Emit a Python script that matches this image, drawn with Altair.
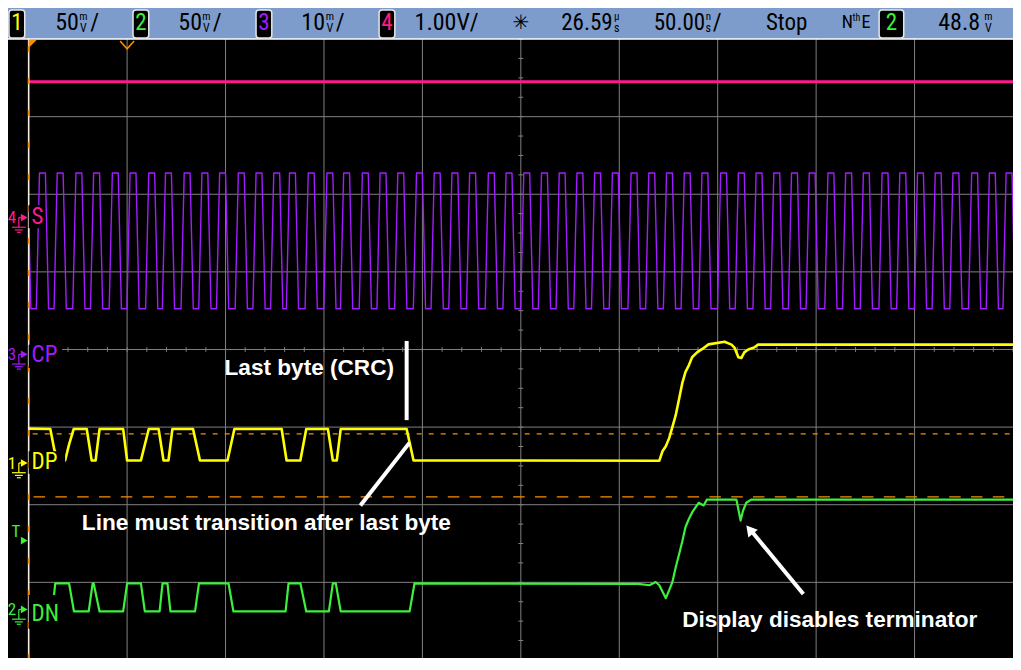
import altair as alt
import pandas as pd

# ---------------- values ----------------
# x: screen divisions from the left edge of the graticule (0..10, 50 ns/div)
# y: screen divisions from the centre line (positive = up)

# channel 4  "S" (magenta) - flat line
s_t = [0.0, 10.0]
s_v = [3.45, 3.45]

# channel 3  "CP" (purple) - centres of the clock's high plateaus
cp_peaks = [-0.04, 0.14, 0.32, 0.51, 0.69, 0.88, 1.06, 1.25, 1.42, 1.61, 1.79, 1.97, 2.16,
            2.34, 2.52, 2.68, 2.87, 3.06, 3.23, 3.42, 3.60, 3.78, 3.97, 4.15, 4.33, 4.51,
            4.70, 4.88, 5.06, 5.24, 5.42, 5.60, 5.78, 5.96, 6.15, 6.33, 6.51, 6.69, 6.87,
            7.06, 7.24, 7.42, 7.60, 7.78, 7.96, 8.15, 8.33, 8.51, 8.70, 8.88, 9.06, 9.24,
            9.42, 9.61, 9.79, 9.96, 10.14]
cp_high = 2.275
cp_low = 0.525

# channel 1  "DP" (yellow)
dp_t = [0, 0.22, 0.26, 0.31, 0.37, 0.41, 0.457, 0.59, 0.64, 0.68, 0.72, 0.96, 1.0, 1.14,
        1.22, 1.32, 1.37, 1.42, 1.46, 1.67, 1.74, 2.02, 2.09, 2.57, 2.62, 2.76, 2.82, 3.04,
        3.09, 3.13, 3.17, 3.84, 3.91, 6.407, 6.44, 6.473, 6.507, 6.54, 6.573, 6.607, 6.64,
        6.673, 6.707, 6.74, 6.79, 6.84, 6.907, 7.07, 7.14, 7.17, 7.21, 7.24, 7.27, 7.31,
        7.37, 7.41, 10.0]
dp_v = [-1.02, -1.025, -1.29, -1.43, -1.43, -1.225, -1.025, -1.025, -1.43, -1.43, -1.025,
        -1.025, -1.43, -1.43, -1.025, -1.025, -1.43, -1.43, -1.025, -1.025, -1.43, -1.43,
        -1.025, -1.025, -1.43, -1.43, -1.025, -1.025, -1.43, -1.43, -1.025, -1.025, -1.43,
        -1.433, -1.308, -1.246, -1.142, -0.996, -0.85, -0.642, -0.434, -0.288, -0.204, -0.1,
        -0.0375, 0.004, 0.066, 0.1, 0.0625, 0.025, -0.1, -0.11, -0.0375, 0.0, 0.025, 0.0625,
        0.0625]

# channel 2  "DN" (green)
dn_t = [0, 0.24, 0.27, 0.41, 0.46, 0.61, 0.65, 0.66, 0.72, 0.96, 1.0, 1.14, 1.18, 1.33, 1.36,
        1.41, 1.44, 1.69, 1.73, 2.03, 2.08, 2.61, 2.64, 2.76, 2.82, 3.05, 3.09, 3.12, 3.17,
        3.87, 3.92, 6.19, 6.307, 6.37, 6.407, 6.44, 6.473, 6.507, 6.54, 6.573, 6.607, 6.64,
        6.673, 6.707, 6.74, 6.773, 6.807, 6.857, 6.89, 7.19, 7.223, 7.233, 7.257, 7.29,
        7.34, 10.0]
dn_v = [-3.375, -3.375, -3.0125, -3.0125, -3.375, -3.375, -3.0125, -3.0125, -3.375, -3.375,
        -3.0125, -3.0125, -3.375, -3.375, -3.0125, -3.0125, -3.375, -3.375, -3.0125, -3.0125,
        -3.375, -3.375, -3.0125, -3.0125, -3.375, -3.375, -3.0125, -3.0125, -3.375, -3.375,
        -3.0125, -3.02, -3.0375, -2.996, -3.0375, -3.121, -3.204, -3.1, -2.996, -2.809,
        -2.641, -2.475, -2.2875, -2.184, -2.1, -2.0375, -1.975, -2.009, -1.934, -1.934,
        -2.141, -2.204, -2.079, -1.975, -1.934, -1.934]

# trigger / threshold levels (orange dashed)
thr_fine = -1.0875
thr_coarse = -1.9

# top status bar
ch_names = ["1", "2", "3", "4"]
ch_scales = ["50", "50", "10", "1.00V/"]
delay_txt = "26.59"
timebase_txt = "50.00"
run_txt = "Stop"
trig_src = "2"
trig_lvl = "48.8"

# channel labels
lab_names = ["S", "CP", "DP", "DN"]
lab_nums = ["4", "3", "1", "2"]

# annotations
ann_texts = ["Last byte (CRC)", "Line must transition after last byte",
             "Display disables terminator"]

# ---------------- styling ----------------
YEL = "#ffff00"
GRN = "#3cf03c"
PUR = "#a21cff"
MAG = "#ff1a8c"
ORG = "#ff8c00"
GRID = "#808080"
BAR = "#7d9ccb"
SCOPE_FONT = "Liberation Sans Narrow, Roboto Condensed, Arial Narrow, Roboto, sans-serif"
ANN_FONT = "Liberation Sans, Arial, Helvetica, sans-serif"

W, H = 1005, 650
XS = alt.Scale(domain=[-0.21, 10.0], nice=False, zero=False)
YS = alt.Scale(domain=[-3.975, 4.4], nice=False, zero=False)


def X(f="x"):
    return alt.X(f"{f}:Q", scale=XS, axis=None)


def Y(f="y"):
    return alt.Y(f"{f}:Q", scale=YS, axis=None)


def rules(rows, color, width, **kw):
    df = pd.DataFrame(rows, columns=["x", "y", "x2", "y2"])
    return alt.Chart(df).mark_rule(color=color, strokeWidth=width, strokeCap="butt", **kw).encode(
        x=X("x"), y=Y("y"), x2="x2:Q", y2="y2:Q")


def trace(t, v, color, width):
    df = pd.DataFrame({"x": t, "y": v, "o": list(range(len(t)))})
    return alt.Chart(df).mark_line(color=color, strokeWidth=width, strokeJoin="round").encode(
        x=X(), y=Y(), order="o:Q")


def rects(rows, **kw):
    df = pd.DataFrame(rows, columns=["x", "y", "x2", "y2"])
    return alt.Chart(df).mark_rect(**kw).encode(x=X("x"), y=Y("y"), x2="x2:Q", y2="y2:Q")


def texts(rows, align, font, weight="normal", baseline="middle"):
    df = pd.DataFrame(rows, columns=["x", "y", "t", "c", "fs"])
    return alt.Chart(df).mark_text(align=align, baseline=baseline, font=font,
                                   fontWeight=weight).encode(
        x=X(), y=Y(), text="t:N", color=alt.Color("c:N", scale=None),
        size=alt.Size("fs:Q", scale=None))


layers = []

# graticule
layers.append(rules([(k, -4.0, k, 4.0) for k in range(1, 10)], GRID, 1))
layers.append(rules([(0, k, 10, k) for k in range(-3, 4)], GRID, 1))
layers.append(rules([(k * 0.2, -0.03, k * 0.2, 0.03) for k in range(51)], GRID, 1))
layers.append(rules([(4.975, -4 + k * 0.25, 5.025, -4 + k * 0.25) for k in range(33)], GRID, 1))

# threshold lines
layers.append(rules([(0, thr_fine, 10, thr_fine)], ORG, 1.3, strokeDash=[5, 7], strokeDashOffset=8))
layers.append(rules([(0.05, thr_coarse, 10, thr_coarse)], ORG, 1.3, strokeDash=[11.5, 10.3]))

# traces
layers.append(trace(s_t, s_v, MAG, 3.2))
cp_t, cp_v = [], []
for i, c in enumerate(cp_peaks):
    cp_t += [c - 0.03, c + 0.03]
    cp_v += [cp_high, cp_high]
    if i < len(cp_peaks) - 1:
        cp_t += [c + 0.062, cp_peaks[i + 1] - 0.062]
        cp_v += [cp_low, cp_low]
layers.append(trace(cp_t, cp_v, PUR, 1.4))
layers.append(trace(dp_t, dp_v, YEL, 2.6))
layers.append(trace(dn_t, dn_v, GRN, 2.2))

# left margin and status bar
layers.append(rects([(-0.21, -4.0, 0.0, 4.0)], color="#000000"))
layers.append(rects([(-0.21, 4.0, 10.0, 4.45)], color=BAR))
layers.append(rules([(-0.21, 4.0, 10.0, 4.0)], "#ffffff", 1.5))
layers.append(rules([(0.0, -4.0, 0.0, 4.0)], "#f6efe4", 1.6))
layers.append(rules([(0.0, -4.0, 0.0, 4.0)], ORG, 1.6, strokeDash=[6, 26]))

# channel number boxes in the bar
box_x = [(-0.20, -0.04), (1.06, 1.22), (2.31, 2.47), (3.56, 3.72), (8.64, 8.89)]
layers.append(rects([(a, 4.0125, b, 4.375) for a, b in box_x], color="#000000",
                    stroke="#e6e6e6", strokeWidth=1.5, cornerRadius=3))
box_cols = [YEL, GRN, PUR, MAG, GRN]
box_lbls = ch_names + [trig_src]
layers.append(texts([((a + b) / 2, 4.2125, t, c, 23) for (a, b), t, c in
                     zip(box_x, box_lbls, box_cols)], "center", SCOPE_FONT))

YB = 4.2125
YT = 4.29
YL = 4.14
bar_left = [
    (0.27, YB, ch_scales[0], "#000", 24), (0.625, YB, "/", "#000", 24),
    (1.52, YB, ch_scales[1], "#000", 24), (1.87, YB, "/", "#000", 24),
    (2.77, YB, ch_scales[2], "#000", 24), (3.12, YB, "/", "#000", 24),
    (3.92, YB, ch_scales[3], "#000", 24),
    (5.41, YB, delay_txt, "#000", 23),
    (6.35, YB, timebase_txt, "#000", 23), (6.95, YB, "/", "#000", 24),
    (7.49, YB, run_txt, "#000", 23),
    (8.26, YB, "N", "#000", 18), (8.37, 4.27, "th", "#000", 10), (8.46, YB, "E", "#000", 18),
    (9.24, YB, trig_lvl, "#000", 24),
]
layers.append(texts(bar_left, "left", SCOPE_FONT))
bar_center = [
    (0.555, YT, "m", "#000", 11), (0.555, YL, "V", "#000", 12),
    (1.805, YT, "m", "#000", 11), (1.805, YL, "V", "#000", 12),
    (3.06, YT, "m", "#000", 11), (3.06, YL, "V", "#000", 12),
    (5.975, YT, "µ", "#000", 11), (5.975, YL, "s", "#000", 12),
    (6.905, YT, "n", "#000", 11), (6.905, YL, "s", "#000", 12),
    (9.75, YT, "m", "#000", 11), (9.75, YL, "V", "#000", 12),
]
layers.append(texts(bar_center, "center", SCOPE_FONT))
layers.append(texts([(5.0, 4.205, "✳", "#000", 20)], "center", "DejaVu Sans"))

# channel labels at the left
lab_y = [1.7125, -0.075, -1.45, -3.4125]
lab_c = [MAG, PUR, YEL, GRN]
layers.append(rects([(0.0, 1.8625, 0.16, 1.5625), (0.0, 0.0625, 0.34, -0.2375),
                     (0.0, -1.3125, 0.37, -1.6), (0.0, -3.1625, 0.32, -3.6)], color="#000000"))
layers.append(texts([(0.03, y, t, c, 23) for y, t, c in zip(lab_y, lab_names, lab_c)],
                    "left", SCOPE_FONT))
num_y = [1.7, -0.075, -1.475, -3.3625]
layers.append(texts([(-0.17, y, t, c, 17) for y, t, c in zip(num_y, lab_nums, lab_c)] +
                    [(-0.13, -2.35, "T", GRN, 17)], "center", SCOPE_FONT))
arr_y = [1.7, -0.0625, -1.4625, -3.35, -2.4625]
arr_c = lab_c + [GRN]
layers.append(alt.Chart(pd.DataFrame({"x": [-0.045] * 5, "y": arr_y, "c": arr_c}))
              .mark_point(shape="triangle-right", filled=True, size=60, opacity=1)
              .encode(x=X(), y=Y(), color=alt.Color("c:N", scale=None)))
for yc, col in zip(arr_y[:4], lab_c):
    layers.append(rules([(-0.10, yc, -0.06, yc), (-0.10, yc, -0.10, yc - 0.125),
                         (-0.17, yc - 0.125, -0.03, yc - 0.125),
                         (-0.14, yc - 0.16, -0.06, yc - 0.16),
                         (-0.12, yc - 0.19, -0.08, yc - 0.19)], col, 1.2))

# trigger markers under the bar
layers.append(alt.Chart(pd.DataFrame({"x": [0.04], "y": [3.9375]}))
              .mark_point(shape="M-1,-1L1,-1L-1,1Z", filled=True, size=64, color=ORG, opacity=1)
              .encode(x=X(), y=Y()))
layers.append(alt.Chart(pd.DataFrame({"x": [1.0], "y": [3.925]}))
              .mark_point(shape="M-1,-0.55L0,0.55L1,-0.55", filled=False, size=196, color=ORG,
                          strokeWidth=1.6, opacity=1)
              .encode(x=X(), y=Y()))

# annotations
layers.append(rules([(3.84, 0.11, 3.84, -0.91), (3.87, -1.2, 3.37, -2.01),
                     (7.87, -3.15, 7.33, -2.32)], "#ffffff", 4))
layers.append(alt.Chart(pd.DataFrame({"x": [7.325], "y": [-2.319]}))
              .mark_point(shape="triangle-up", filled=True, size=150, color="#ffffff",
                          angle=320.5, opacity=1)
              .encode(x=X(), y=Y()))
ann_rows = [(1.99, -0.325, ann_texts[0], "#ffffff", 22.6),
            (0.54, -2.325, ann_texts[1], "#ffffff", 22.6),
            (6.64, -3.575, ann_texts[2], "#ffffff", 22.6)]
layers.append(texts(ann_rows, "left", ANN_FONT, weight="bold", baseline="alphabetic"))

chart = alt.layer(*layers).properties(
    width=W, height=H, padding=0, background="#000000",
    autosize=alt.AutoSizeParams(type="none"),
).configure_view(stroke=None)

chart.save("out.html", embed_options={"renderer": "svg", "actions": False})
